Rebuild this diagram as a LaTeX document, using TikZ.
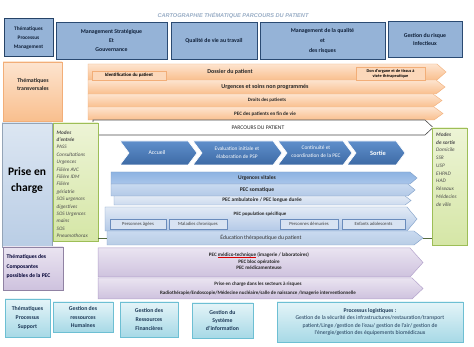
\documentclass[tikz,border=0pt]{standalone}
\usepackage{fontspec}
\setmainfont{Carlito}
\newfontfamily\titlefont{Liberation Sans}
\usetikzlibrary{shadows}
\definecolor{titlecol}{HTML}{9AAEC6}
\definecolor{topfill}{HTML}{95B3D7}
\definecolor{topdraw}{HTML}{2A4A72}
\definecolor{topText}{HTML}{10213A}
\definecolor{orA}{HTML}{FDE4CF}
\definecolor{orB}{HTML}{F9BF8E}
\definecolor{orDraw}{HTML}{F2AE78}
\definecolor{inFill}{HTML}{FCD8BA}
\definecolor{chevA}{HTML}{5F8FCB}
\definecolor{chevB}{HTML}{3D6AA5}
\definecolor{uvA}{HTML}{8DB3E2}
\definecolor{uvB}{HTML}{A9C5EA}
\definecolor{psA}{HTML}{C9DAF0}
\definecolor{psB}{HTML}{B3C9E7}
\definecolor{paA}{HTML}{E2EAF5}
\definecolor{paB}{HTML}{CCDAEE}
\definecolor{blDraw}{HTML}{7F9FC8}
\definecolor{subFill}{HTML}{D8E3F2}
\definecolor{subDraw}{HTML}{6A8CBC}
\definecolor{pecA}{HTML}{DCE6F2}
\definecolor{pecB}{HTML}{B9CDE5}
\definecolor{grA}{HTML}{EDF4D6}
\definecolor{grB}{HTML}{D5E6A6}
\definecolor{grDraw}{HTML}{9DBE57}
\definecolor{puA}{HTML}{EAE4F1}
\definecolor{puB}{HTML}{CEC2DE}
\definecolor{puDraw}{HTML}{B4A3CC}
\definecolor{cyA}{HTML}{E4F4F8}
\definecolor{cyB}{HTML}{A7D9E6}
\definecolor{cyDraw}{HTML}{6DBFD3}
\definecolor{cyText}{HTML}{1E3A58}
\definecolor{connCol}{HTML}{556B3F}
\newcommand\fs[2]{\fontsize{#1}{#2}\selectfont}
\newcommand\rowarrow[6]{\path[#1] (#2,#3) -- ({#4-#6},#3) -- (#4,{(#3+#5)/2}) -- ({#4-#6},#5) -- (#2,#5) -- cycle;}
\newcommand\chevron[6]{\path[#1] (#2,#3) -- ({#4-#6},#3) -- (#4,{(#3+#5)/2}) -- ({#4-#6},#5) -- (#2,#5) -- ({#2+#6},{(#3+#5)/2}) -- cycle;}
\newcommand\redul[1]{\setbox0\hbox{#1}\rlap{\textcolor{red!85!black}{\rule[-1pt]{\wd0}{0.35pt}}}\box0}
\begin{document}
\begin{tikzpicture}[x=1pt,y=-1pt,
  every node/.style={inner sep=0pt, align=center},
  topbox/.style={draw=topdraw, line width=0.6pt, fill=topfill, text=topText, font=\bfseries\fs{5.8}{8.6}},
  orrow/.style={top color=orA, bottom color=orB, draw=orDraw, line width=0.4pt},
  inbox/.style={fill=inFill, draw=orDraw, line width=0.4pt},
  rowtxt/.style={font=\bfseries\fs{5.6}{6.5}, text=black!85},
  chev/.style={top color=chevA, bottom color=chevB, draw=white, line width=0.6pt},
  chevtxt/.style={font=\fs{5.4}{8.6}, text=white},
  bluerow/.style={draw=blDraw, line width=0.4pt},
  subbox/.style={fill=subFill, draw=subDraw, line width=0.4pt, font=\fs{4.7}{5}, text=black!75},
  greenbox/.style={top color=grA, bottom color=grB, draw=grDraw, line width=0.5pt},
  greentxt/.style={anchor=north west, align=left, font=\itshape\fs{5.2}{7.4}, text=black!70},
  purow/.style={top color=puA, bottom color=puB, draw=puDraw, line width=0.5pt},
  putxt/.style={font=\bfseries\fs{5.1}{6.6}, text=black!85},
  cybox/.style={top color=cyA, bottom color=cyB, draw=cyDraw, line width=0.5pt, text=cyText,
     drop shadow={opacity=0.2, shadow xshift=1pt, shadow yshift=-1pt}},
  conn/.style={draw=connCol, line width=0.6pt}
]
\fill[white] (0,0) rectangle (474,347);
\useasboundingbox (0,0) rectangle (474,347);

% title
\node[font=\titlefont\bfseries\itshape\fs{5.6}{6}, text=titlecol] (title) at (233,16) {CARTOGRAPHIE THÉMATIQUE PARCOURS DU PATIENT};

% top row
\node[topbox, line width=1pt, draw=topdraw!90!black, minimum width=49, minimum height=38, font=\bfseries\fs{5.3}{9.4}] (tpm) at (28.5,38) {Thématiques\\Processus\\Management};
\node[topbox, minimum width=111, minimum height=37] (mgt) at (111.5,40.5) {Management Stratégique\\Et\\Gouvernance};
\node[topbox, minimum width=86, minimum height=37] (qvt) at (214,40.5) {Qualité de vie au travail};
\node[topbox, minimum width=125, minimum height=37, font=\bfseries\fs{5.8}{10}] (mqr) at (322.5,40.5) {Management de la qualité\\et\\des risques};
\node[topbox, minimum width=74, minimum height=36] (gri) at (425,39.5) {Gestion du risque\\Infectieux};

% transversales
\node[top color=orA, bottom color=orB, draw=orDraw, line width=0.5pt, minimum width=59, minimum height=59,
  drop shadow={opacity=0.15, shadow xshift=1pt, shadow yshift=-1pt}] (trans) at (32.5,91.5) {};
\node[rowtxt, font=\bfseries\fs{5.8}{7.4}] (transtxt) at (33,84.5) {Thématiques\\transversales};

\rowarrow{orrow}{88}{64}{446}{80}{9}
\rowarrow{orrow}{88}{80}{445}{94}{9}
\rowarrow{orrow}{88}{94}{442}{107}{9}
\rowarrow{orrow}{88}{107}{443}{120}{9}
\node[rowtxt, font=\bfseries\fs{6}{6.5}] (dossier) at (230,72) {Dossier du patient};
\node[inbox, minimum width=74, minimum height=9, font=\bfseries\fs{4.8}{5}] (ident) at (129,75.5) {Identification du patient};
\node[inbox, minimum width=69, minimum height=13, font=\bfseries\fs{4.3}{5}] (don) at (390.5,73.5) {Don d'organe et de tissus à\\visée thérapeutique};
\node[rowtxt, font=\bfseries\fs{6}{6.5}] (urg) at (265,87) {Urgences et soins non programmés};
\node[rowtxt, font=\bfseries\fs{4.9}{6}] (droits) at (267,100.5) {Droits des patients};
\node[rowtxt, font=\bfseries\fs{5.1}{6}] (fin) at (265,114) {PEC des patients en fin de vie};

% parcours
\rowarrow{fill=white, draw=black!70, line width=0.6pt}{93}{120}{433}{135}{8}
\node[font=\fs{5.6}{6}, text=black!85] (parcours) at (258,127.5) {PARCOURS DU PATIENT};

% prise en charge
\node[top color=pecA, bottom color=pecB, draw=pecB!80!black, line width=0.5pt, minimum width=50, minimum height=124] (pec) at (27,185) {};
\node[font=\bfseries\fs{11.5}{16}, text=black] (pectxt) at (27,180) {Prise en\\charge};

% modes entree / sortie
\node[greenbox, minimum width=45, minimum height=118] (modin) at (75.5,182) {};
\node[greentxt] (modintxt) at (56.5,130.3) {\textbf{Modes}\\\textbf{d'entrée}\\PASS\\Consultations\\Urgences\\Filière AVC\\Filière IDM\\Filière\\gériatrie\\SOS urgences\\digestives\\SOS Urgences\\mains\\SOS\\Pneumothorax};
\node[greenbox, minimum width=35, minimum height=117] (modout) at (449.5,186.5) {};
\node[greentxt, font=\itshape\fs{5.3}{7.75}] (modouttxt) at (436,132.5) {\textbf{Modes}\\\textbf{de sortie}\\Domicile\\SSR\\USP\\EHPAD\\HAD\\Réseaux\\Médecins\\de ville};

% chevrons
\chevron{chev}{120}{141}{197}{165}{9}
\chevron{chev}{193}{141}{282}{165}{9}
\chevron{chev}{278}{141}{352}{165}{9}
\chevron{chev}{347}{141}{405}{165}{9}
\node[chevtxt, font=\fs{5.8}{8}] (accueil) at (157,153) {Accueil};
\node[chevtxt] (evalu) at (237,152.5) {Evaluation initiale et\\élaboration de PSP};
\node[chevtxt] (contin) at (316,151.5) {Continuité et\\coordination de la PEC};
\node[chevtxt, font=\bfseries\fs{6.4}{8}] (sortie) at (378,153) {Sortie};

% blue rows
\rowarrow{bluerow, top color=uvA, bottom color=uvB}{111}{172}{417}{184}{7}
\rowarrow{bluerow, top color=psA, bottom color=psB}{111}{184}{415}{196}{7}
\rowarrow{bluerow, top color=paA, bottom color=paB}{114}{196}{411}{205}{6}
\node[rowtxt, font=\bfseries\fs{5.6}{6}] (uv) at (257,178) {Urgences vitales};
\node[rowtxt, font=\bfseries\fs{5.6}{6}] (som) at (257,190) {PEC somatique};
\node[rowtxt, font=\bfseries\fs{5.3}{6}] (amb) at (262,200.5) {PEC ambulatoire / PEC longue durée};

\rowarrow{bluerow, top color=paA, bottom color=psB}{105}{207}{417}{231}{10}
\node[rowtxt, font=\bfseries\fs{4.9}{6}] (popu) at (260,214.5) {PEC population spécifique};
\node[subbox, minimum width=56, minimum height=10] (pa) at (138,224) {Personnes âgées};
\node[subbox, minimum width=58, minimum height=10] (mc) at (198,224) {Maladies chroniques};
\node[subbox, minimum width=58, minimum height=10] (pd) at (309,224) {Personnes démunies};
\node[subbox, minimum width=63, minimum height=10] (ea) at (373.5,224) {Enfants adolescents};

\rowarrow{bluerow, top color=psA, bottom color=pecB}{107}{231}{423}{245}{9}
\node[font=\fs{5.6}{6}, text=black!80] (edu) at (261,238) {Éducation thérapeutique du patient};
\coordinate (eduL) at (107,238);
\coordinate (eduR) at (423,238);
\draw[conn] (modin.east |- eduL) -- (eduL);
\draw[conn] (eduR) -- (modout.west |- eduR);

% purple
\rowarrow{purow}{98}{248}{423}{277}{13}
\rowarrow{purow}{98}{278}{423}{299}{11}
\node[putxt] (medtech) at (259,261.5) {PEC \redul{médico-technique}\ (imagerie / laboratoires)\\PEC bloc opératoire\\PEC médicamenteuse};
\node[putxt, font=\bfseries\fs{5}{8.6}] (risques) at (258,288.5) {Prise en charge dans les secteurs à risques\\Radiothérapie/Endoscopie/Médecine nucléaire/salle de naissance /Imagerie interventionnelle};

\node[top color=puA, bottom color=puB, draw=puDraw!80!black, line width=0.5pt, minimum width=60, minimum height=43,
  drop shadow={opacity=0.15, shadow xshift=1pt, shadow yshift=-1pt}] (compo) at (33,268.5) {};
\node[anchor=north west, align=left, font=\bfseries\fs{5.6}{9.5}, text=black!80!blue] (compotxt) at (6.5,254.5) {Thématiques des\\Composantes\\possibles de la PEC};

% bottom
\node[cybox, minimum width=45, minimum height=38, font=\bfseries\fs{5.8}{8.6}] (tps) at (27.5,318) {Thématiques\\Processus\\Support};
\node[cybox, minimum width=60, minimum height=30, font=\bfseries\fs{5.8}{8.6}] (grh) at (83,317) {Gestion des\\ressources\\Humaines};
\node[cybox, minimum width=58, minimum height=35, font=\bfseries\fs{5.8}{9}] (grf) at (149,319.5) {Gestion des\\Ressources\\Financières};
\node[cybox, minimum width=61, minimum height=35, font=\bfseries\fs{5.8}{7.6}] (gsi) at (222.5,320.5) {Gestion du\\Système\\d'information};
\node[cybox, minimum width=186, minimum height=40, font=\fs{5.7}{7.4}] (plog) at (370,322) {\textbf{Processus logistiques :}\\Gestion de la sécurité des infrastructures/restauration/transport\\patient/Linge /gestion de l'eau/ gestion de l'air/ gestion de\\l'énergie/gestion des équipements biomédicaux};
\end{tikzpicture}
\end{document}
